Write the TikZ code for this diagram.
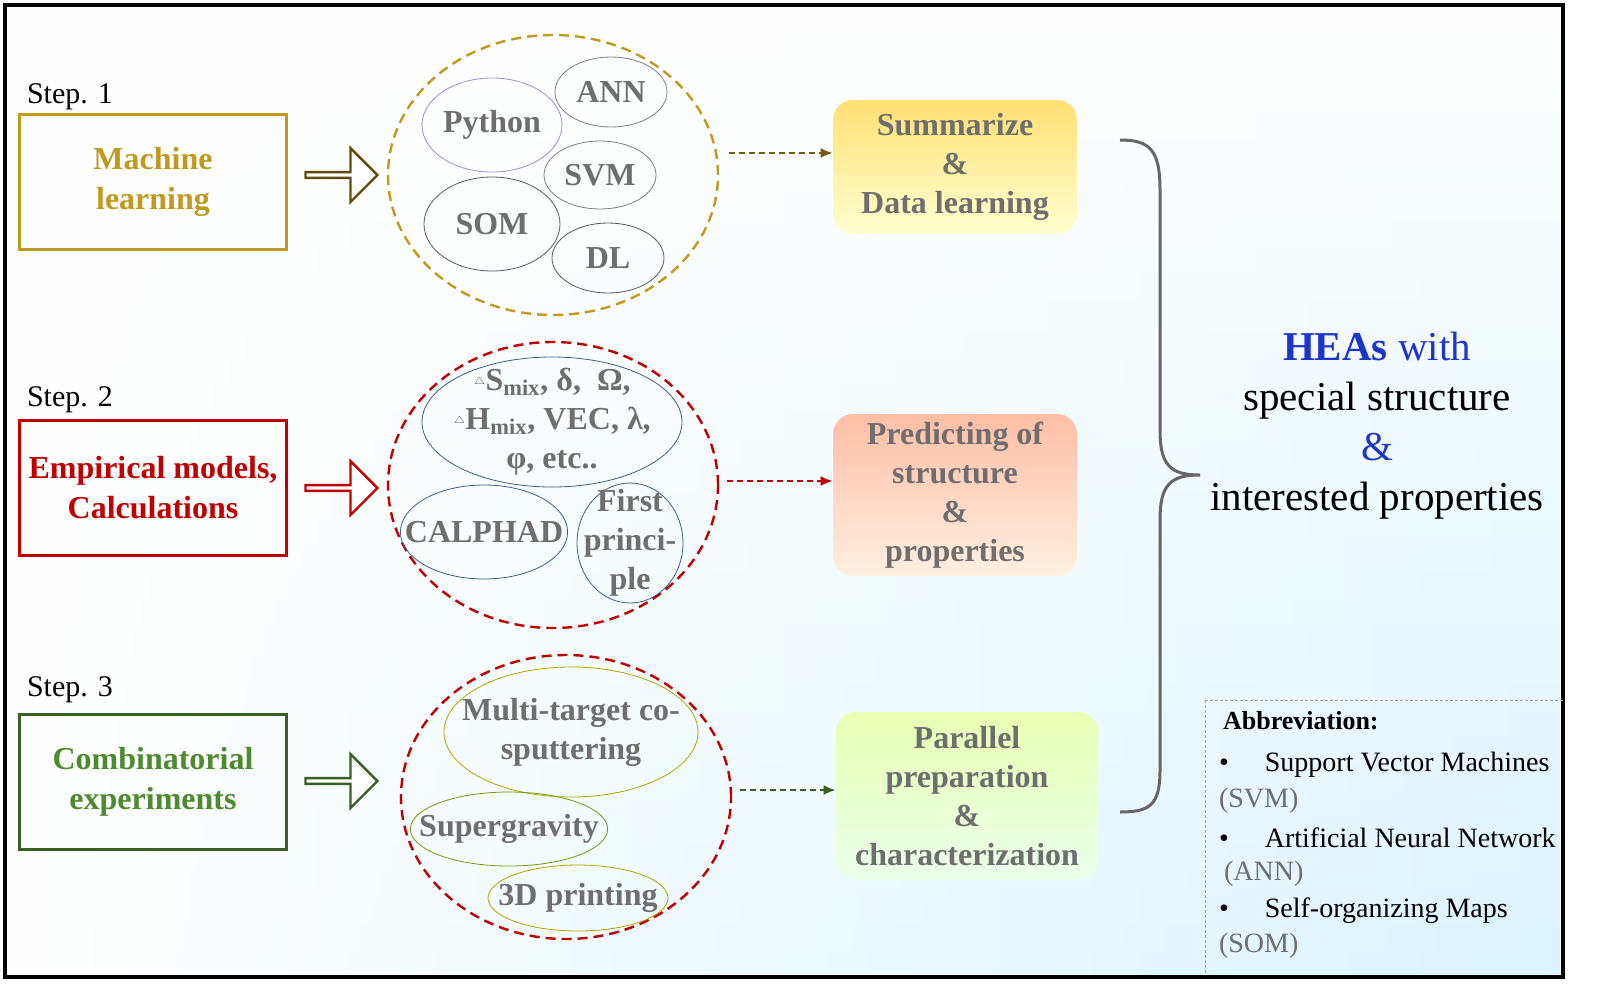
\documentclass[tikz,border=0pt]{standalone}
\usepackage{fontspec}
\setmainfont{Liberation Serif}
\usetikzlibrary{shapes.geometric,shapes.arrows,arrows.meta,fadings}
\definecolor{gold}{HTML}{BF9A1E}
\definecolor{rred}{HTML}{C00000}
\definecolor{dgreen}{HTML}{3B5E23}
\definecolor{lgreen}{HTML}{4E8A2E}
\definecolor{txtgray}{HTML}{6E6E6E}
\definecolor{hblue}{HTML}{1F35C8}
\definecolor{eblue}{HTML}{3A5F8C}
\begin{document}
\begin{tikzpicture}[x=0.5pt,y=-0.5pt,
  steplbl/.style={font=\fontsize{15}{17}\selectfont,anchor=west},
  sbox/.style={draw,line width=1.6pt,minimum width=133.5pt,minimum height=67.5pt,align=center,font=\fontsize{16}{20}\selectfont\bfseries},
  harrow/.style={single arrow,draw,line width=1.2pt,fill=white,minimum height=36pt,minimum width=27pt,single arrow head extend=5pt,single arrow tip angle=90,inner sep=0pt},
  dcirc/.style={ellipse,draw,dashed,line width=1.2pt,dash pattern=on 5pt off 3pt},
  inel/.style={ellipse,draw,inner sep=-7pt,align=center,text=txtgray,font=\fontsize{16}{19.5}\selectfont\bfseries},
  rbox/.style={rounded corners=10pt,align=center,text=txtgray,font=\fontsize{16}{19.5}\selectfont\bfseries,minimum width=122pt},
  darr/.style={dashed,dash pattern=on 3pt off 2pt,line width=1pt,-{Latex[length=6pt,width=5pt]}}
]
\useasboundingbox (0,0) rectangle (1600,1002);
\fill[white] (5,5) rectangle (1563,977);
\fill[cyan!14,path fading=north] (5,5) rectangle (1563,977);
\fill[white,path fading=east] (5,5) rectangle (1563,977);
\draw[line width=2pt] (5,5) rectangle (1563,977);

% Step 1
\node[steplbl] (s1) at (20,97) {Step. 1};
\node[sbox,draw=gold,text=gold] (b1) at (153,182) {Machine\\learning};
\node[harrow,draw=gold!50!black] (a1) at (340,175) {};
\node[dcirc,draw=gold,minimum width=165pt,minimum height=140pt] (c1) at (553,175) {};
\node[inel,draw=gray!60!blue!60,minimum width=70pt,minimum height=47pt] (py) at (492,125) {Python};
\node[inel,draw=gray,minimum width=56pt,minimum height=35pt] (ann) at (611,92) {ANN};
\node[inel,draw=gray,minimum width=56pt,minimum height=34pt] (svm) at (600,175) {SVM};
\node[inel,draw=gray!70!black,minimum width=68pt,minimum height=47pt] (som) at (492,224) {SOM};
\node[inel,draw=gray!70!black,minimum width=56pt,minimum height=35pt] (dl) at (608,258) {DL};
\node[rbox,top color=yellow!55!orange!55,bottom color=yellow!18,minimum height=67pt] (r1) at (955,167) {Summarize\\\&\\Data learning};
\draw[darr,draw=gold!60!black] (c1.east)++(10,-22) coordinate (d1s) -- (r1.west|-d1s);

% Step 2
\node[steplbl] (s2) at (20,400) {Step. 2};
\node[sbox,draw=rred,text=rred] (b2) at (153,488) {Empirical models,\\Calculations};
\node[harrow,draw=rred] (a2) at (340,488) {};
\node[dcirc,draw=rred,minimum width=165pt,minimum height=143pt] (c2) at (553,485) {};
\node[inel,draw=eblue,inner sep=-14pt,minimum width=130pt,minimum height=65pt] (emp) at (552,422) {\raisebox{3pt}{\tiny$\triangle$}S\textsubscript{mix}, δ,\ \ Ω,\\\raisebox{3pt}{\tiny$\triangle$}H\textsubscript{mix}, VEC, λ,\\φ, etc..};
\node[inel,draw=eblue,inner sep=-10pt,minimum width=80pt,minimum height=47pt] (cal) at (484,532) {CALPHAD};
\node[inel,draw=eblue,inner sep=-10pt,minimum width=53pt,minimum height=60pt] (fp) at (630,543) {First\\princi-\\ple};
\node[rbox,top color=orange!55!red!35,bottom color=orange!12,minimum height=81pt] (r2) at (955,495) {Predicting of\\structure\\\&\\properties};
\draw[darr,draw=rred] (c2.east)++(8,-4) coordinate (d2s) -- (r2.west|-d2s);

% Step 3
\node[steplbl] (s3) at (20,690) {Step. 3};
\node[sbox,draw=dgreen,text=lgreen] (b3) at (153,782) {Combinatorial\\experiments};
\node[harrow,draw=dgreen] (a3) at (340,781) {};
\node[dcirc,draw=rred,minimum width=165pt,minimum height=142pt] (c3) at (566,797) {};
\node[inel,draw=olive!70!yellow,inner sep=-12pt,minimum width=127pt,minimum height=65pt] (mt) at (571,732) {Multi-target co-\\sputtering};
\node[inel,draw=olive!70!green,inner sep=-10pt,minimum width=95pt,minimum height=37pt] (sg) at (509,829) {Supergravity};
\node[inel,draw=olive!70!yellow,inner sep=-10pt,minimum width=90pt,minimum height=33pt] (pr) at (578,898) {3D printing};
\node[rbox,top color=green!30!yellow!30,bottom color=green!8,minimum width=131pt,minimum height=84pt] (r3) at (967,796) {Parallel\\preparation\\\&\\characterization};
\draw[darr,draw=dgreen] (c3.east)++(8,-7) coordinate (d3s) -- (r3.west|-d3s);

% brace
\draw[gray!80!black,line width=1.5pt] (1120,140) .. controls (1150,140) and (1160,150) .. (1160,190) -- (1160,430) .. controls (1160,465) and (1170,475) .. (1200,475) .. controls (1170,475) and (1160,485) .. (1160,520) -- (1160,770) .. controls (1160,805) and (1150,812) .. (1120,812);

\node[align=center,font=\fontsize{20.5}{25}\selectfont] (hea) at (1377,426) {\textcolor{hblue}{\textbf{HEAs} with}\\special structure\\\textcolor{hblue}{\&}\\interested properties};

% abbreviation
\draw[gray!70,dashed,dash pattern=on 1.5pt off 1pt,line width=0.5pt] (1205,700) -- (1563,700);
\draw[gray!70,dashed,dash pattern=on 1.5pt off 1pt,line width=0.5pt] (1205,700) -- (1205,975);
\node[anchor=west,font=\fontsize{13}{15}\selectfont\bfseries] (ab) at (1216,721) {Abbreviation:};
\node[anchor=west,font=\fontsize{14}{15}\selectfont] (l1) at (1212,765) {•\hspace{18pt}Support Vector Machines};
\node[anchor=west,font=\fontsize{14}{15}\selectfont,text=txtgray] (l2) at (1212,801) {(SVM)};
\node[anchor=west,font=\fontsize{14}{15}\selectfont] (l3) at (1212,838) {•\hspace{18pt}Artificial Neural Network};
\node[anchor=west,font=\fontsize{14}{15}\selectfont,text=txtgray] (l4) at (1217,874) {(ANN)};
\node[anchor=west,font=\fontsize{14}{15}\selectfont] (l5) at (1212,911) {•\hspace{18pt}Self-organizing Maps};
\node[anchor=west,font=\fontsize{14}{15}\selectfont,text=txtgray] (l6) at (1212,946) {(SOM)};
\end{tikzpicture}
\end{document}
